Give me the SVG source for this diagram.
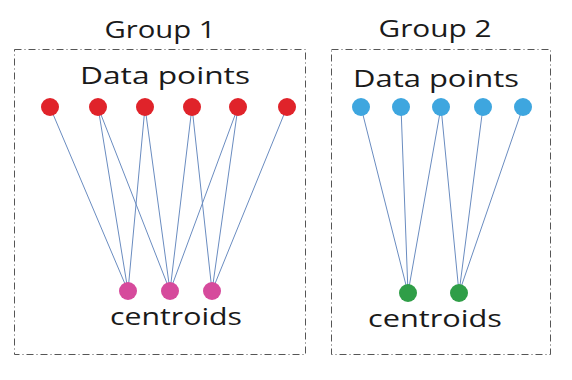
<svg xmlns="http://www.w3.org/2000/svg" width="572" height="380" viewBox="0 0 572 380">
<style>
.box{fill:none;stroke:#555;stroke-width:1;stroke-dasharray:7 3 1 3}
.lbl{font-family:"Open Sans",Lato,sans-serif;font-size:23px;fill:#1a1a1a;text-anchor:middle}
.edge{stroke:#6a8cc0;stroke-width:1;fill:none}
.red{fill:#e0232a}
.blue{fill:#3ea6df}
.pink{fill:#d64a9c}
.green{fill:#2f9e47}
</style>
<rect width="572" height="380" fill="#fff"/>
<g id="group1">
<rect class="box" x="14.5" y="49.5" width="291" height="305"/>
<text class="lbl" x="160" y="38" textLength="111" lengthAdjust="spacingAndGlyphs">Group 1</text>
<text class="lbl" x="165" y="84" textLength="170" lengthAdjust="spacingAndGlyphs">Data points</text>
<text class="lbl" x="176" y="325" textLength="132" lengthAdjust="spacingAndGlyphs">centroids</text>
</g>
<g id="group2">
<rect class="box" x="331.5" y="49.5" width="219" height="305"/>
<text class="lbl" x="435" y="37" textLength="113" lengthAdjust="spacingAndGlyphs">Group 2</text>
<text class="lbl" x="436" y="87" textLength="166" lengthAdjust="spacingAndGlyphs">Data points</text>
<text class="lbl" x="435" y="327" textLength="134" lengthAdjust="spacingAndGlyphs">centroids</text>
</g>
<g id="connectors">
<line class="edge" x1="50" y1="107" x2="128" y2="291"/>
<line class="edge" x1="98" y1="107" x2="128" y2="291"/>
<line class="edge" x1="98" y1="107" x2="170" y2="291"/>
<line class="edge" x1="145" y1="107" x2="128" y2="291"/>
<line class="edge" x1="145" y1="107" x2="170" y2="291"/>
<line class="edge" x1="192" y1="107" x2="170" y2="291"/>
<line class="edge" x1="192" y1="107" x2="212" y2="291"/>
<line class="edge" x1="238" y1="107" x2="170" y2="291"/>
<line class="edge" x1="238" y1="107" x2="212" y2="291"/>
<line class="edge" x1="287" y1="107" x2="212" y2="291"/>
<line class="edge" x1="361" y1="107" x2="408" y2="293"/>
<line class="edge" x1="401" y1="107" x2="408" y2="293"/>
<line class="edge" x1="441" y1="107" x2="408" y2="293"/>
<line class="edge" x1="441" y1="107" x2="459" y2="293"/>
<line class="edge" x1="483" y1="107" x2="459" y2="293"/>
<line class="edge" x1="523" y1="107" x2="459" y2="293"/>
</g>
<g id="d1"><circle class="red" cx="50" cy="107" r="9"/></g>
<g id="d2"><circle class="red" cx="98" cy="107" r="9"/></g>
<g id="d3"><circle class="red" cx="145" cy="107" r="9"/></g>
<g id="d4"><circle class="red" cx="192" cy="107" r="9"/></g>
<g id="d5"><circle class="red" cx="238" cy="107" r="9"/></g>
<g id="d6"><circle class="red" cx="287" cy="107" r="9"/></g>
<g id="c1"><circle class="pink" cx="128" cy="291" r="9"/></g>
<g id="c2"><circle class="pink" cx="170" cy="291" r="9"/></g>
<g id="c3"><circle class="pink" cx="212" cy="291" r="9"/></g>
<g id="b1"><circle class="blue" cx="361" cy="107" r="9"/></g>
<g id="b2"><circle class="blue" cx="401" cy="107" r="9"/></g>
<g id="b3"><circle class="blue" cx="441" cy="107" r="9"/></g>
<g id="b4"><circle class="blue" cx="483" cy="107" r="9"/></g>
<g id="b5"><circle class="blue" cx="523" cy="107" r="9"/></g>
<g id="g1"><circle class="green" cx="408" cy="293" r="9"/></g>
<g id="g2"><circle class="green" cx="459" cy="293" r="9"/></g>
</svg>
